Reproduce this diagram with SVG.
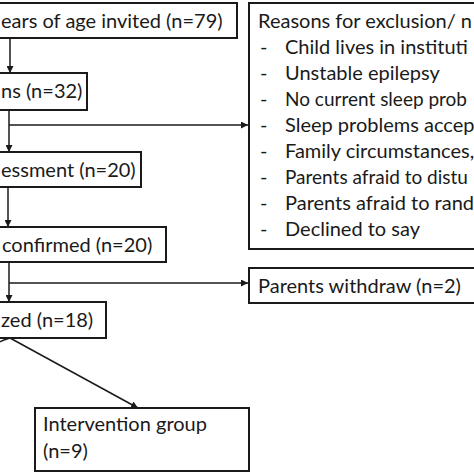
<svg xmlns="http://www.w3.org/2000/svg" width="474" height="474" viewBox="0 0 474 474">
<defs>
<marker id="ah" viewBox="0 0 10 10" refX="10" refY="5" markerWidth="7" markerHeight="7" markerUnits="userSpaceOnUse" orient="auto">
<path d="M0,0 L10,5 L0,10 z" fill="#1a1a1a"/>
</marker>
<style>
.box{fill:#fff;stroke:#1a1a1a;stroke-width:2}
.t{font-family:Lato,"Liberation Sans",sans-serif;font-size:20px;fill:#1a1a1a}
.s{font-size:19px}
.c{fill:none;stroke:#1a1a1a;stroke-width:1.5}
</style>
</defs>
<rect width="474" height="474" fill="#fff"/>
<g id="connectors">
<line class="c" x1="10" y1="38" x2="10" y2="73" marker-end="url(#ah)"/>
<line class="c" x1="9" y1="110" x2="9" y2="152" marker-end="url(#ah)"/>
<line class="c" x1="9" y1="125" x2="248" y2="125" marker-end="url(#ah)"/>
<line class="c" x1="8" y1="187" x2="8" y2="227" marker-end="url(#ah)"/>
<line class="c" x1="9" y1="262" x2="9" y2="302" marker-end="url(#ah)"/>
<line class="c" x1="9" y1="283" x2="248" y2="283" marker-end="url(#ah)"/>
<line class="c" x1="10" y1="338" x2="138" y2="408" marker-end="url(#ah)"/>
<path class="c" d="M10,338 L4,340 Q1,341 -6,345"/>
</g>
<g id="invited">
<rect class="box" x="-20" y="3" width="257" height="35"/>
<text class="t" x="1" y="28">ears of age invited (n=79)</text>
</g>
<g id="n32">
<rect class="box" x="-20" y="73" width="107" height="37"/>
<text class="t" x="1" y="98">ns (n=32)</text>
</g>
<g id="assessment">
<rect class="box" x="-20" y="152" width="161" height="35"/>
<text class="t" x="1" y="177">essment (n=20)</text>
</g>
<g id="confirmed">
<rect class="box" x="-20" y="227" width="186" height="35"/>
<text class="t" x="2" y="252">confirmed (n=20)</text>
</g>
<g id="randomized">
<rect class="box" x="-20" y="302" width="126" height="36"/>
<text class="t" x="1" y="327">zed (n=18)</text>
</g>
<g id="intervention">
<rect class="box" x="35" y="408" width="214" height="63"/>
<text class="t" x="43" y="431">Intervention group</text>
<text class="t" x="43" y="458">(n=9)</text>
</g>
<g id="reasons">
<rect class="box" x="249" y="3" width="240" height="246"/>
<text class="t" x="258" y="28">Reasons for exclusion/ n</text>
<g class="t">
<text x="260" y="54">-</text><text x="285" y="54">Child lives in instituti</text>
<text x="260" y="80">-</text><text x="285" y="80">Unstable epilepsy</text>
<text x="260" y="106">-</text><text class="s" x="285" y="106">No current sleep prob</text>
<text x="260" y="132">-</text><text x="285" y="132">Sleep problems accep</text>
<text x="260" y="158">-</text><text x="285" y="158">Family circumstances,</text>
<text x="260" y="184">-</text><text class="s" x="285" y="184">Parents afraid to distu</text>
<text x="260" y="210">-</text><text x="285" y="210">Parents afraid to rand</text>
<text x="260" y="236">-</text><text x="285" y="236">Declined to say</text>
</g>
</g>
<g id="withdraw">
<rect class="box" x="249" y="268" width="240" height="35"/>
<text class="t" x="258" y="293">Parents withdraw (n=2)</text>
</g>
</svg>
